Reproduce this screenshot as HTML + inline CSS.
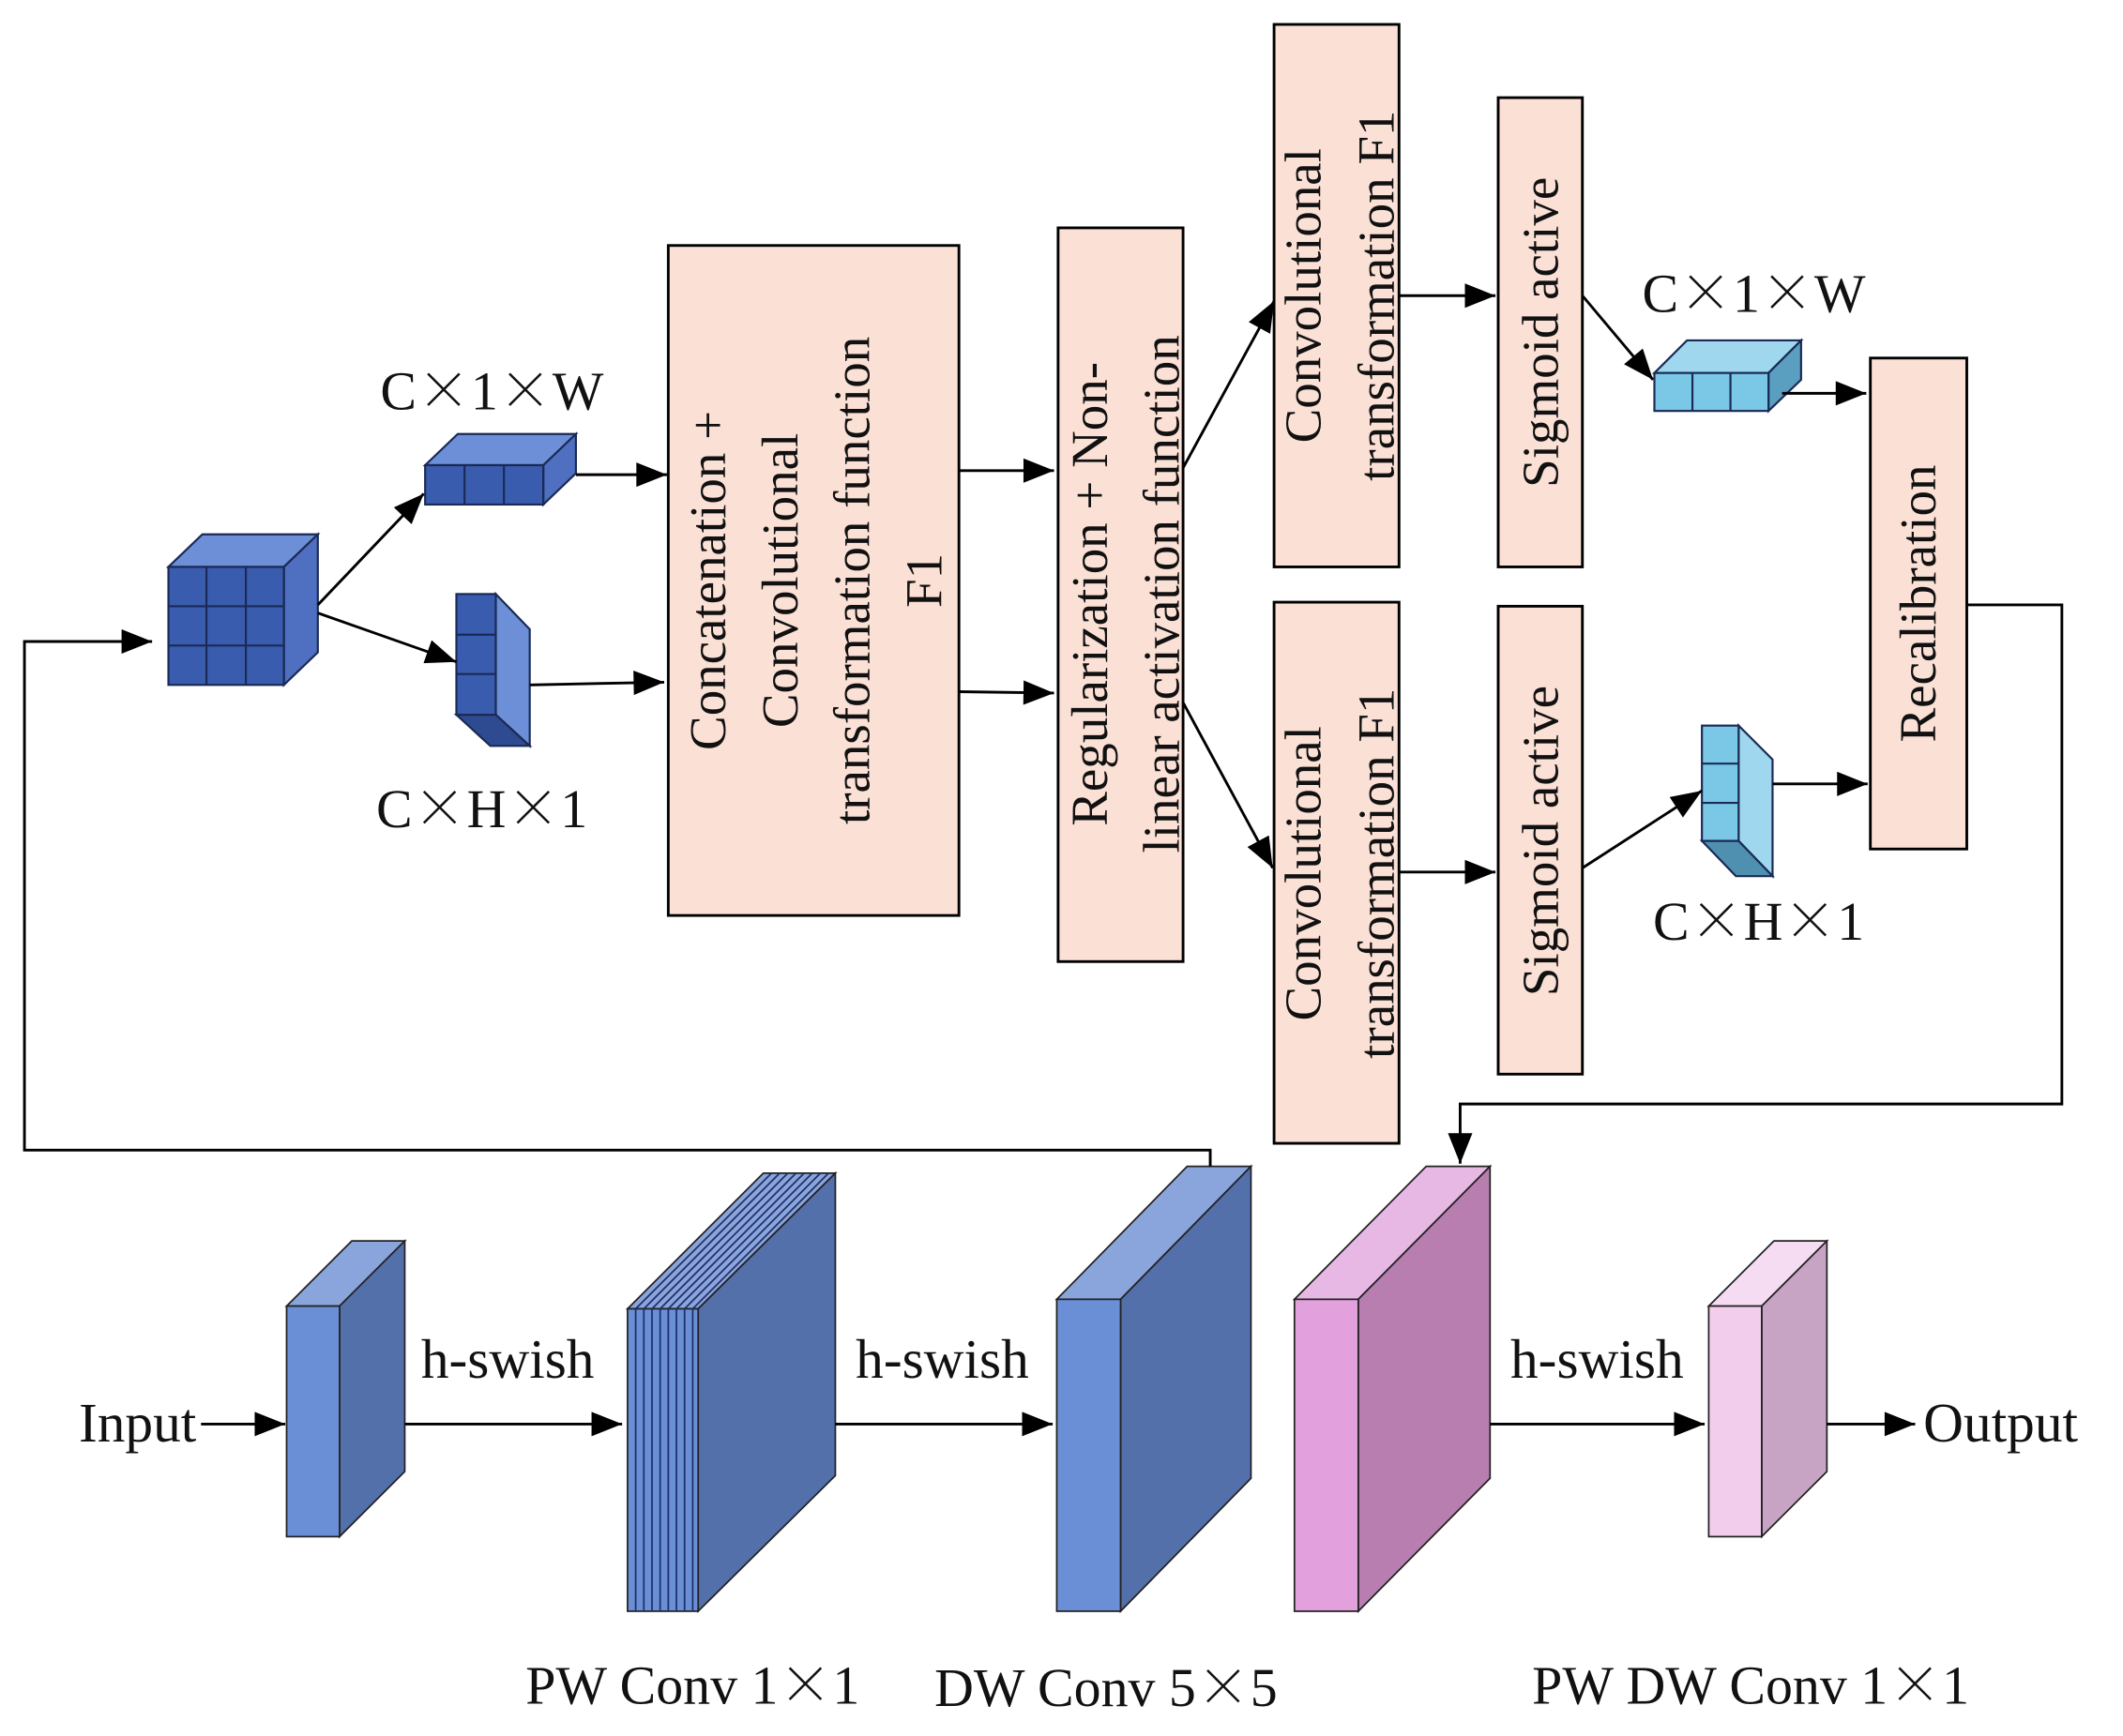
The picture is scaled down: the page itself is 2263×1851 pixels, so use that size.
<!DOCTYPE html>
<html><head><meta charset="utf-8"><style>
html,body{margin:0;padding:0;background:#fff}
svg{display:block}
text{font-family:"Liberation Serif",serif;fill:#111}
.x{font-family:"Noto Serif CJK SC","Liberation Serif",serif}
</style></head><body>
<svg width="2263" height="1851" viewBox="0 0 1563 1280" preserveAspectRatio="none" xmlns="http://www.w3.org/2000/svg">
<defs>
<marker id="b" viewBox="0 0 10 8" markerWidth="26" markerHeight="18" refX="10" refY="4" orient="auto" markerUnits="userSpaceOnUse"><path d="M0,0 L10,4 L0,8z" fill="#000"/></marker>
</defs>
<g stroke="#000" stroke-width="2" fill="#fbe0d6">
<rect x="492" y="181" width="214" height="494"/>
<rect x="779" y="168" width="92" height="541"/>
<rect x="938" y="18" width="92" height="400"/>
<rect x="1103" y="72" width="62" height="346"/>
<rect x="938" y="444" width="92" height="399"/>
<rect x="1103" y="447" width="62" height="345"/>
<rect x="1377" y="264" width="71" height="362"/>
</g>
<g font-size="38" text-anchor="middle">
<text transform="translate(600,428) rotate(-90)"><tspan x="0" y="-66">Concatenation +</tspan><tspan x="0" y="-13">Convolutional</tspan><tspan x="0" y="40">transformation function</tspan><tspan x="0" y="93">F1</tspan></text>
<text transform="translate(825,438) rotate(-90)"><tspan x="0" y="-10">Regularization + Non-</tspan><tspan x="0" y="43">linear activation function</tspan></text>
<text transform="translate(984,218) rotate(-90)"><tspan x="0" y="-12">Convolutional</tspan><tspan x="0" y="42">transformation F1</tspan></text>
<text transform="translate(984,644) rotate(-90)"><tspan x="0" y="-12">Convolutional</tspan><tspan x="0" y="42">transformation F1</tspan></text>
<text transform="translate(1134,245) rotate(-90)"><tspan x="0" y="13">Sigmoid active</tspan></text>
<text transform="translate(1134,620) rotate(-90)"><tspan x="0" y="13">Sigmoid active</tspan></text>
<text transform="translate(1412,445) rotate(-90)"><tspan x="0" y="13">Recalibration</tspan></text>
</g>
<g stroke="#1a2a55" stroke-width="1.5">
<polygon points="124,418 149,394 234,394 209,418" fill="#6d8fd8"/>
<polygon points="209,418 234,394 234,481 209,505" fill="#4f6fc0"/>
<rect x="124" y="418" width="85" height="87" fill="#3a5cae"/>
<path d="M152,418V505M181,418V505M124,447H209M124,476H209" fill="none"/>
<polygon points="313,343 337,320 424,320 400,343" fill="#6d8fd8"/>
<polygon points="400,343 424,320 424,349 400,372" fill="#4f6fc0"/>
<rect x="313" y="343" width="87" height="29" fill="#3a5cae"/>
<path d="M342,343V372M371,343V372" fill="none"/>
<polygon points="365,438 390,464 390,550 365,527" fill="#6d8fd8"/>
<polygon points="336,527 365,527 390,550 361,550" fill="#2e4a90"/>
<rect x="336" y="438" width="29" height="89" fill="#3a5cae"/>
<path d="M336,468H365M336,497H365" fill="none"/>
<polygon points="1218,275 1242,251 1326,251 1302,275" fill="#9fd8ee"/>
<polygon points="1302,275 1326,251 1326,280 1302,303" fill="#5a9fc0"/>
<rect x="1218" y="275" width="84" height="28" fill="#7ac8e6"/>
<path d="M1246,275V303M1274,275V303" fill="none"/>
<polygon points="1280,535 1305,560 1305,646 1280,620" fill="#9fd8ee"/>
<polygon points="1253,620 1280,620 1305,646 1278,646" fill="#4f8fb0"/>
<rect x="1253" y="535" width="27" height="85" fill="#7ac8e6"/>
<path d="M1253,563H1280M1253,592H1280" fill="none"/>
</g>
<g stroke="#222" stroke-width="1.2">
<polygon points="211,963 259,915 298,915 250,963" fill="#8aa4dc"/>
<polygon points="250,963 298,915 298,1085 250,1133" fill="#5470aa"/>
<rect x="211" y="963" width="39" height="170" fill="#6b8fd6"/>
<polygon points="462,965 562,865 615,865 514,965" fill="#8aa4dc"/>
<polygon points="514,965 615,865 615,1088 514,1188" fill="#5470aa"/>
<rect x="462" y="965" width="52" height="223" fill="#6b8fd6"/>
<path d="M468,965V1188M474,965V1188M480,965V1188M486,965V1188M492,965V1188M498,965V1188M504,965V1188M510,965V1188M468,965L568,865M474,965L574,865M480,965L580,865M486,965L586,865M492,965L592,865M498,965L598,865M504,965L604,865M510,965L610,865" fill="none" stroke="#1e2f66"/>
<polygon points="778,958 874,860 921,860 825,958" fill="#8aa4dc"/>
<polygon points="825,958 921,860 921,1090 825,1188" fill="#5470aa"/>
<rect x="778" y="958" width="47" height="230" fill="#6b8fd6"/>
<polygon points="953,958 1050,860 1097,860 1000,958" fill="#e8b8e4"/>
<polygon points="1000,958 1097,860 1097,1090 1000,1188" fill="#b87eb0"/>
<rect x="953" y="958" width="47" height="230" fill="#e2a0dc"/>
<polygon points="1258,963 1306,915 1345,915 1297,963" fill="#f6dcf2"/>
<polygon points="1297,963 1345,915 1345,1085 1297,1133" fill="#c8a4c4"/>
<rect x="1258" y="963" width="39" height="170" fill="#f2cdec"/>
</g>
<g stroke="#000" stroke-width="2" fill="none" marker-end="url(#b)">
<path d="M234,446L312,364"/>
<path d="M234,452L336,488"/>
<path d="M424,350H491"/>
<path d="M390,505L489,503"/>
<path d="M706,347H776"/>
<path d="M706,510L776,511"/>
<path d="M871,345L938,222"/>
<path d="M871,518L937,640"/>
<path d="M1030,218H1101"/>
<path d="M1030,643H1101"/>
<path d="M1165,218L1217,280"/>
<path d="M1165,640L1253,583"/>
<path d="M1312,290H1374"/>
<path d="M1305,578H1375"/>
<path d="M891,860V848H18V473H112"/>
<path d="M1448,446H1518V814H1075V858"/>
<path d="M148,1050H210"/>
<path d="M298,1050H458"/>
<path d="M615,1050H775"/>
<path d="M1097,1050H1255"/>
<path d="M1345,1050H1410"/>
</g>
<g font-size="40">
<text x="280" y="302">C<tspan class="x">×</tspan>1<tspan class="x">×</tspan>W</text>
<text x="277" y="610">C<tspan class="x">×</tspan>H<tspan class="x">×</tspan>1</text>
<text x="1209" y="230">C<tspan class="x">×</tspan>1<tspan class="x">×</tspan>W</text>
<text x="1217" y="693">C<tspan class="x">×</tspan>H<tspan class="x">×</tspan>1</text>
<text x="58" y="1063" font-size="41">Input</text>
<text x="1416" y="1063" font-size="41">Output</text>
<text x="310" y="1016" font-size="41">h-swish</text>
<text x="630" y="1016" font-size="41">h-swish</text>
<text x="1112" y="1016" font-size="41">h-swish</text>
<text x="387" y="1256">PW Conv 1<tspan class="x">×</tspan>1</text>
<text x="688" y="1258">DW Conv 5<tspan class="x">×</tspan>5</text>
<text x="1128" y="1256">PW DW Conv 1<tspan class="x">×</tspan>1</text>
</g>
</svg>
</body></html>
